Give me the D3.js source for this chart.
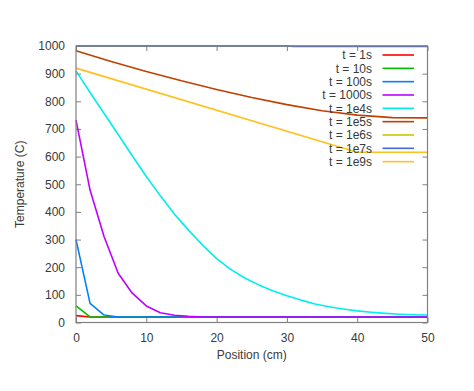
<!DOCTYPE html>
<html>
<head>
<meta charset="utf-8">
<script src="https://cdn.jsdelivr.net/npm/d3@7"></script>
<style>
  body { margin: 0; background: #fff; }
  svg text { font-family: "Liberation Sans", Arial, sans-serif; }
</style>
</head>
<body>
<div id="chart"></div>
<script>
// series data (position in cm, temperature in C)
const labels = ["t = 1s", "t = 10s", "t = 100s", "t = 1000s", "t = 1e4s", "t = 1e5s", "t = 1e6s", "t = 1e7s", "t = 1e9s"]
const colors = ["#ff0000", "#00c000", "#0080ff", "#c000ff", "#00eeee", "#c04000", "#c8c800", "#4169e1", "#ffc020"]

const pos1s = [0, 2, 50]
const temp1s = [25, 20, 20]
const pos10s = [0, 2, 50]
const temp10s = [60, 20, 20]
const pos100s = [0, 2, 4, 6, 50]
const temp100s = [300, 69, 27, 20, 20]
const pos1000s = [0, 2, 4, 6, 8, 10, 12, 14, 16, 18, 50]
const temp1000s = [732, 479, 310, 178, 106, 60, 35, 26, 22, 20, 20]
const pos1e4s = [0, 2, 4, 6, 8, 10, 12, 14, 16, 18, 20, 22, 24, 26, 28, 30, 32, 34, 36, 38, 40, 42, 44, 46, 48, 50]
const temp1e4s = [910, 832, 756, 680, 603, 528, 458, 392, 334, 280, 231, 192, 161, 136, 115, 97, 81, 67, 57, 49, 42, 37, 33, 30, 28, 27]
const pos1e5s = [0, 5, 10, 15, 20, 25, 30, 35, 40, 45, 50]
const temp1e5s = [983, 944, 908, 874, 843, 814, 788, 766, 750, 741, 740]
const pos1e6s = [0, 50]
const temp1e6s = [1000, 1000]
const pos1e7s = [0, 30, 31, 50]
const temp1e7s = [1000, 1000, 998, 998]
const pos1e9s = [0, 40, 50]
const temp1e9s = [920, 616, 616]

const xTicks = [0, 10, 20, 30, 40, 50]
const yTicks = [0, 100, 200, 300, 400, 500, 600, 700, 800, 900, 1000]

const seriesPos = [pos1s, pos10s, pos100s, pos1000s, pos1e4s, pos1e5s, pos1e6s, pos1e7s, pos1e9s]
const seriesTemp = [temp1s, temp10s, temp100s, temp1000s, temp1e4s, temp1e5s, temp1e6s, temp1e7s, temp1e9s]

const width = 474
const height = 391
const plotLeft = 76, plotRight = 427.5, plotTop = 46, plotBottom = 322.5
const textColor = "#3a3a3a"
const frameColor = "#808080"
const fontSize = 12

const svg = d3.select("#chart")
  .append("svg")
  .attr("width", width)
  .attr("height", height)

const x = d3.scaleLinear().domain([0, 50]).range([plotLeft, plotRight])
const y = d3.scaleLinear().domain([0, 1000]).range([plotBottom, plotTop])

// axes with inward ticks, mirrored on top/right
const tickLen = 5
const axisStyle = g => {
  g.select(".domain").remove()
  g.selectAll(".tick line").attr("stroke", frameColor)
  g.selectAll(".tick text").attr("fill", textColor).attr("font-size", fontSize)
}
svg.append("g")
  .attr("transform", `translate(0,${plotBottom})`)
  .call(d3.axisBottom(x).tickValues(xTicks).tickFormat(d3.format("d")).tickSizeInner(-tickLen).tickSizeOuter(0).tickPadding(11))
  .call(axisStyle)
svg.append("g")
  .attr("transform", `translate(0,${plotTop})`)
  .call(d3.axisTop(x).tickValues(xTicks).tickSizeInner(-tickLen).tickSizeOuter(0).tickFormat(""))
  .call(axisStyle)
svg.append("g")
  .attr("transform", `translate(${plotLeft},0)`)
  .call(d3.axisLeft(y).tickValues(yTicks).tickFormat(d3.format("d")).tickSizeInner(-tickLen).tickSizeOuter(0).tickPadding(11))
  .call(axisStyle)
svg.append("g")
  .attr("transform", `translate(${plotRight},0)`)
  .call(d3.axisRight(y).tickValues(yTicks).tickSizeInner(-tickLen).tickSizeOuter(0).tickFormat(""))
  .call(axisStyle)

// lines
const line = d3.line()
  .x(d => x(d[0]))
  .y(d => y(d[1]))

const plot = svg.append("g")
for (let i = 0; i < labels.length; i++) {
  const pts = seriesPos[i].map((p, j) => [p, seriesTemp[i][j]])
  plot.append("path")
    .datum(pts)
    .attr("fill", "none")
    .attr("stroke", colors[i])
    .attr("stroke-width", 1.6)
    .attr("stroke-linejoin", "round")
    .attr("d", line)
}

// frame
svg.append("rect")
  .attr("x", plotLeft)
  .attr("y", plotTop)
  .attr("width", plotRight - plotLeft)
  .attr("height", plotBottom - plotTop)
  .attr("fill", "none")
  .attr("stroke", frameColor)
  .attr("stroke-width", 1.2)

// legend
const legend = svg.append("g")
labels.forEach((lab, i) => {
  const ly = 55 + i * 13.33
  legend.append("text")
    .attr("x", 372)
    .attr("y", ly)
    .attr("dy", "0.35em")
    .attr("text-anchor", "end")
    .attr("font-size", fontSize)
    .attr("fill", textColor)
    .text(lab)
  legend.append("line")
    .attr("x1", 382.5).attr("x2", 414)
    .attr("y1", ly).attr("y2", ly)
    .attr("stroke", colors[i])
    .attr("stroke-width", 1.6)
})

// axis titles
svg.append("text")
  .attr("x", (plotLeft + plotRight) / 2)
  .attr("y", 359)
  .attr("text-anchor", "middle")
  .attr("font-size", fontSize)
  .attr("fill", textColor)
  .text("Position (cm)")

svg.append("text")
  .attr("transform", `translate(24,${(plotTop + plotBottom) / 2}) rotate(-90)`)
  .attr("text-anchor", "middle")
  .attr("font-size", fontSize)
  .attr("fill", textColor)
  .text("Temperature (C)")
</script>
</body>
</html>
